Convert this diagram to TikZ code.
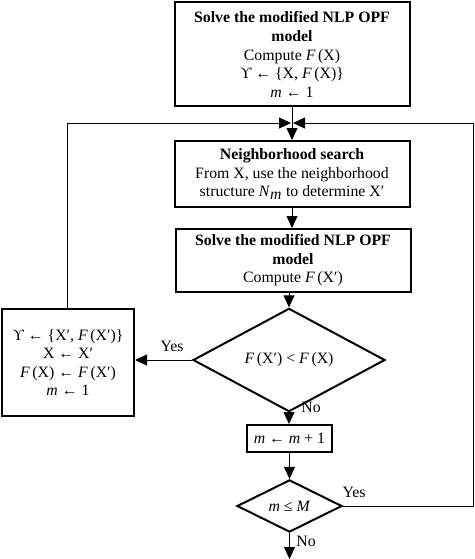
\documentclass[tikz,border=0pt]{standalone}
\usepackage{fontspec}
\setmainfont{Liberation Serif}
\usetikzlibrary{shapes.geometric,arrows.meta}
\tikzset{
  box/.style={draw, line width=2pt, align=center, inner sep=2pt, font=\fontsize{15.8}{18.6}\selectfont},
  dia/.style={draw, diamond, line width=2pt, inner sep=0pt, align=center, font=\fontsize{15.8}{18.6}\selectfont},
  conn/.style={line width=0.9pt},
  arr/.style={conn, -{Triangle[length=12pt,width=11pt]}},
  lbl/.style={font=\fontsize{15.8}{18.6}\selectfont}
}
\newcommand{\fx}[1]{\textit{F}\,(#1)}
\begin{document}
\begin{tikzpicture}[x=1pt,y=-1pt]
\useasboundingbox (0,0) rectangle (474,559);
\node[box, minimum width=235pt, minimum height=104pt] (b1) at (292,54.5)
 {\textbf{Solve the modified NLP OPF}\\\textbf{model}\\Compute \fx{X}\\ϒ ← \{X, \fx{X}\}\\\textit{m} ← 1};
\node[box, minimum width=235pt, minimum height=66pt] (b2) at (292,174)
 {\textbf{Neighborhood search}\\From X, use the neighborhood\\structure \textit{N}$_{\textit{m}}$ to determine X′};
\node[box, minimum width=235pt, minimum height=63pt] (b3) at (293,260.5)
 {\textbf{Solve the modified NLP OPF}\\\textbf{model}\\Compute \fx{X′}};
\node[dia, minimum width=192pt, minimum height=78pt] (d1) at (289,360) {\fx{X′} < \fx{X}};
\node[box, minimum width=132pt, minimum height=107pt] (b4) at (68,362.5)
 {ϒ ← \{X′, \fx{X′}\}\\X ← X′\\\fx{X} ← \fx{X′}\\\textit{m} ← 1};
\node[box, minimum width=85pt, minimum height=27pt] (b5) at (289.5,438.5) {\textit{m} ← \textit{m} + 1};
\node[dia, minimum width=105pt, minimum height=50pt] (d2) at (289.5,506) {\textit{m} ≤ \textit{M}};
\coordinate (J) at (292,123);
\coordinate (end) at (289.5,559);
\coordinate (rc) at (473,506);
\coordinate (lc) at (67,123);
\draw[arr] (b1.south) -- (b2.north);
\draw[arr] (b4.north -| lc) -- (lc) -- ([xshift=-1pt]J);
\draw[arr] (d2.east) -- (rc) -- (rc |- J) -- ([xshift=1pt]J);
\draw[arr] (b2.south) -- (b2.south |- b3.north);
\draw[arr] (b3.south -| d1.north) -- (d1.north);
\draw[arr] (d1.west) -- (b4.east |- d1.west);
\draw[arr] (d1.south) -- (d1.south |- b5.north);
\draw[arr] (b5.south) -- (d2.north);
\draw[arr] (d2.south) -- (end);
\node[lbl] (y1) at (172,346) {Yes};
\node[lbl] (n1) at (311,407) {No};
\node[lbl] (y2) at (354,492) {Yes};
\node[lbl] (n2) at (306,541) {No};
\end{tikzpicture}
\end{document}
